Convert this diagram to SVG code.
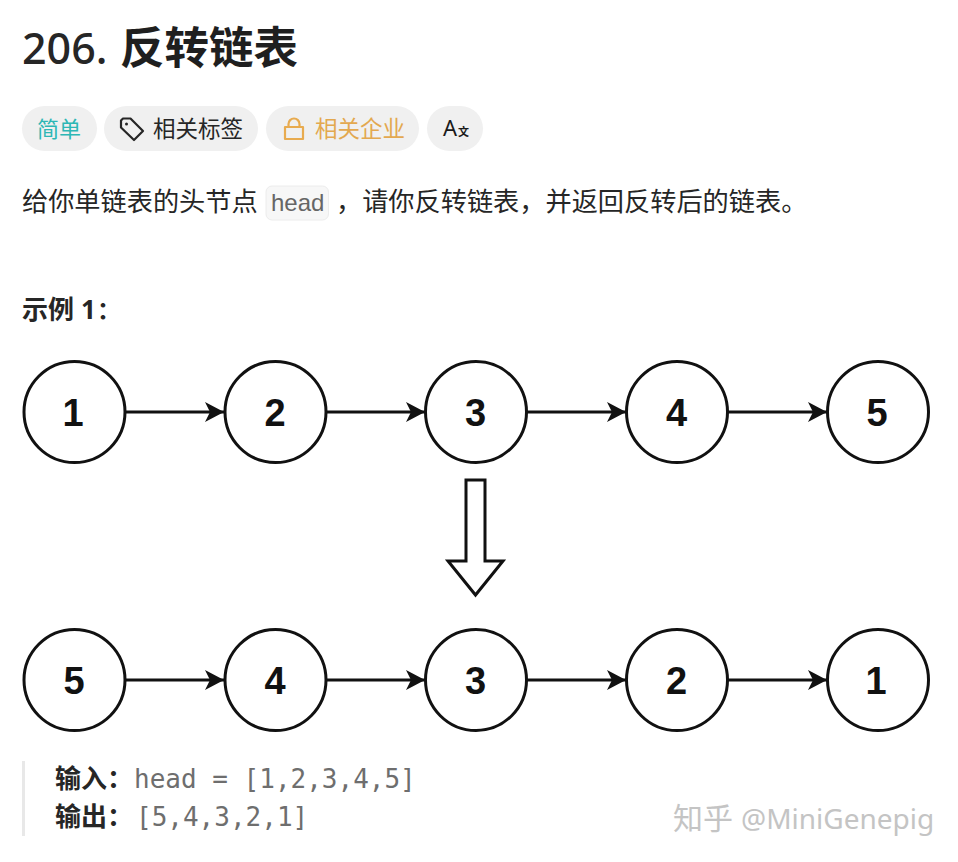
<svg xmlns="http://www.w3.org/2000/svg" width="958" height="862" viewBox="0 0 958 862">
<style>
text{font-family:"Noto Sans","Noto Sans CJK SC",sans-serif;fill:#262626}
.cjk{font-family:"Noto Sans CJK SC",sans-serif}
.pill{fill:#f0f0f0}
.n circle{fill:#fff;stroke:#111;stroke-width:3}
.n text{font-family:"Liberation Sans",Arial,sans-serif;font-weight:700;font-size:38px;text-anchor:middle;fill:#111}
.c line{stroke:#111;stroke-width:3;marker-end:url(#a)}
.mono{font-family:"DejaVu Sans Mono","Liberation Mono",monospace;font-size:26px;fill:#6e6e6e}
</style>
<defs><marker id="a" markerUnits="userSpaceOnUse" markerWidth="22" markerHeight="24" refX="19" refY="11" orient="auto"><path d="M0 1L19 11L0 21L5 11Z" fill="#111"/></marker></defs>
<rect width="958" height="862" fill="#fff"/>
<text x="22" y="64" font-size="43" font-weight="500" fill="#1f1f1f">206.</text>
<text class="cjk" x="120" y="64" font-size="44.500" font-weight="700" style="fill:#1f1f1f">反转链表</text>
<g id="tag-easy"><rect class="pill" x="22" y="106" width="75" height="45" rx="22.500"/><text class="cjk" x="37" y="137" font-size="22" style="fill:#2db7b5">简单</text></g>
<g id="tag-topics"><rect class="pill" x="104" y="106" width="154" height="45" rx="22.500"/><path d="M121 120.500L121 127.500L134 140L143 131L130.500 118.500L123 118.500Z" fill="none" stroke="#262626" stroke-width="2.200" stroke-linejoin="round"/><circle cx="126.500" cy="124" r="1.500" fill="#262626"/><text class="cjk" x="153" y="137" font-size="22.500">相关标签</text></g>
<g id="tag-company"><rect class="pill" x="266" y="106" width="153" height="45" rx="22.500"/><path d="M288.500 127V124a5.500 5.500 0 0 1 11 0V127M285 127H303V139H285Z" fill="none" stroke="#e8ab4f" stroke-width="2.200" stroke-linejoin="round"/><text class="cjk" x="315" y="137" font-size="22.500" style="fill:#e3a84f">相关企业</text></g>
<g id="tag-lang"><rect class="pill" x="427" y="106" width="56" height="45" rx="22.500"/><text x="443" y="136" font-size="22" style="fill:#1a1a1a">A</text><text class="cjk" x="458" y="136" font-size="11" font-weight="700" style="fill:#1a1a1a">文</text></g>
<text class="cjk" x="22" y="211" font-size="26.200">给你单链表的头节点</text>
<rect x="266" y="186" width="62.500" height="34" rx="6" fill="#f7f7f7" stroke="#ececec"/>
<text x="271" y="211" font-size="24" style="font-family:'Liberation Sans',sans-serif;fill:#666">head</text>
<text class="cjk" x="336" y="211" font-size="26.200">，请你反转链表，并返回反转后的链表。</text>
<text x="22" y="319" class="cjk" font-size="26" font-weight="700">示例</text>
<text x="81" y="319" font-size="26" font-weight="700">1</text>
<text x="97" y="319" class="cjk" font-size="24" font-weight="700">：</text>
<g class="c" id="connectors">
<line x1="126" y1="412" x2="224" y2="412"/><line x1="327" y1="412" x2="425" y2="412"/><line x1="527" y1="412" x2="626" y2="412"/><line x1="728" y1="412" x2="827" y2="412"/>
<line x1="126" y1="680" x2="224" y2="680"/><line x1="327" y1="680" x2="425" y2="680"/><line x1="527" y1="680" x2="626" y2="680"/><line x1="728" y1="680" x2="827" y2="680"/>
</g>
<g class="n" id="n1"><circle cx="74.500" cy="412" r="50.500"/><text x="73" y="426">1</text></g>
<g class="n" id="n2"><circle cx="275.500" cy="412" r="50.500"/><text x="275" y="426">2</text></g>
<g class="n" id="n3"><circle cx="476" cy="412" r="50.500"/><text x="475.500" y="426">3</text></g>
<g class="n" id="n4"><circle cx="677" cy="412" r="50.500"/><text x="676.500" y="426">4</text></g>
<g class="n" id="n5"><circle cx="878" cy="412" r="50.500"/><text x="877" y="426">5</text></g>
<g id="down-arrow"><path d="M466 480H485V561H503L475.500 595L448 561H466Z" fill="#fff" stroke="#111" stroke-width="3"/></g>
<g class="n" id="m5"><circle cx="74.500" cy="680" r="50.500"/><text x="74" y="694">5</text></g>
<g class="n" id="m4"><circle cx="275.500" cy="680" r="50.500"/><text x="275" y="694">4</text></g>
<g class="n" id="m3"><circle cx="476" cy="680" r="50.500"/><text x="475.500" y="694">3</text></g>
<g class="n" id="m2"><circle cx="677" cy="680" r="50.500"/><text x="676.500" y="694">2</text></g>
<g class="n" id="m1"><circle cx="878" cy="680" r="50.500"/><text x="876" y="694">1</text></g>
<rect x="22" y="761" width="3" height="75" fill="#e8e8e8"/>
<text x="55" y="788" class="cjk" font-size="26" font-weight="700">输入：</text><text x="134" y="788" class="mono">head = [1,2,3,4,5]</text>
<text x="55" y="826" class="cjk" font-size="26" font-weight="700">输出：</text><text x="136" y="826" class="mono">[5,4,3,2,1]</text>
<text x="673" y="829" class="cjk" font-size="30" style="fill:#c4c4c4">知乎</text><text x="741" y="829" font-size="28" style="fill:#c4c4c4">@MiniGenepig</text>
</svg>
